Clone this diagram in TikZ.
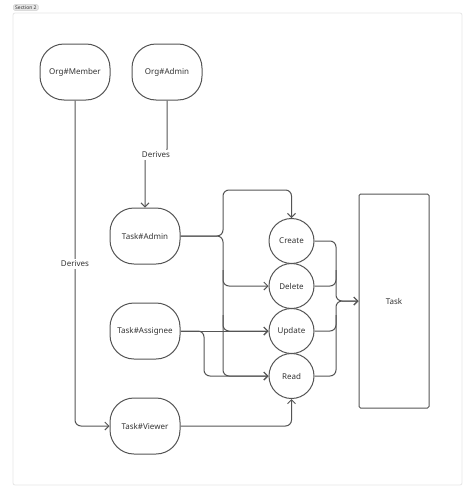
\documentclass[tikz,border=0pt]{standalone}
\usepackage{fontspec}
\setmainfont{Noto Sans}
\usetikzlibrary{arrows.meta}
\definecolor{edgec}{HTML}{555555}
\definecolor{txtc}{HTML}{333333}
\definecolor{framec}{HTML}{E6E6E6}
\tikzset{
  role/.style={draw=edgec, line width=1pt, rounded corners=24pt, minimum width=70pt, minimum height=56pt, inner sep=0pt, font=\fontsize{8}{9}\selectfont, text=txtc},
  perm/.style={draw=edgec, line width=1pt, circle, minimum size=45pt, inner sep=0pt, font=\fontsize{8}{9}\selectfont, text=txtc},
  res/.style={draw=edgec, line width=1pt, rounded corners=1.5pt, minimum width=70pt, minimum height=214pt, inner sep=0pt, font=\fontsize{8}{9}\selectfont, text=txtc},
  conn/.style={draw=edgec, line width=1pt, rounded corners=6pt},
  arr/.style={conn, -{Straight Barb[length=4pt,width=8pt,line width=1pt]}},
  lbl/.style={fill=white, inner sep=2.5pt, font=\fontsize{8}{9}\selectfont, text=txtc},
}
\begin{document}
\begin{tikzpicture}[x=1pt,y=-1pt]
\useasboundingbox (0,0) rectangle (474,498);
\fill[white] (0,0) rectangle (474,498);
% section frame
\draw[framec, line width=0.8pt, rounded corners=2pt] (13,13) rectangle (462,485);
\node[draw=black!20, fill=framec, rounded corners=1.5pt, inner xsep=2pt, inner ysep=1pt, font=\fontsize{5}{6}\selectfont, text=txtc, anchor=west] (sec) at (13,7.5) {Section 2};

% nodes
\node[role] (om) at (75,72) {Org\#Member};
\node[role] (oa) at (167,72) {Org\#Admin};
\node[role] (ta) at (145,236) {Task\#Admin};
\node[role] (tas) at (145,331) {Task\#Assignee};
\node[role] (tv) at (145,426) {Task\#Viewer};
\node[perm] (cr) at (291.5,241) {Create};
\node[perm] (de) at (291.5,286) {Delete};
\node[perm] (up) at (291.5,331) {Update};
\node[perm] (rd) at (291.5,376) {Read};
\node[res] (task) at (394,301) {Task};

% helper coordinates
\coordinate (bx) at (223,0);
\coordinate (bx2) at (204,0);
\coordinate (bx3) at (336,0);
\coordinate (ctop) at (291.5,190);
\coordinate (mid) at (156,155);
\coordinate (b1) at (223,270);
\coordinate (b2) at (223,315);
\coordinate (r1) at (336,270);
\coordinate (r2) at (336,315);

% org edges
\draw[arr] (om.south) |- (tv.west);
\node[lbl] (d1) at (75,264) {Derives};
\draw[arr] (oa.south) |- (mid) -| (ta.north);
\node[lbl] (d2) at (mid) {Derives};

% Task#Admin
\draw[arr] (ta.east) -- (ta.east -| bx) |- (ctop) -- (cr.north);
\draw[arr] (ta.east) -- (ta.east -| bx) |- (rd.west);
\draw[arr] (b1) |- (de.west);
\draw[arr] (b2) |- (up.west);

% Task#Assignee
\draw[arr] (tas.east) -- (up.west);
\draw[arr] (tas.east) -- (tas.east -| bx2) |- (rd.west);

% Task#Viewer
\draw[arr] (tv.east) -| (rd.south);

% permissions to Task
\draw[arr] (cr.east) -- (cr.east -| bx3) |- (task.west);
\draw[arr] (rd.east) -- (rd.east -| bx3) |- (task.west);
\draw[conn] (de.east) -| (r1);
\draw[conn] (up.east) -| (r2);
\end{tikzpicture}
\end{document}
